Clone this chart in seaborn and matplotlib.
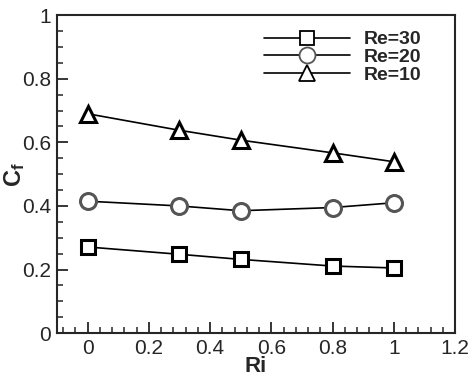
import matplotlib
matplotlib.use("Agg")
import matplotlib.pyplot as plt
import seaborn as sns
import pandas as pd
from matplotlib.lines import Line2D
from matplotlib.ticker import MultipleLocator

# Data
ri = [0.0, 0.3, 0.5, 0.8, 1.0]
cf_re30 = [0.271, 0.248, 0.232, 0.211, 0.205]
cf_re20 = [0.415, 0.400, 0.385, 0.395, 0.410]
cf_re10 = [0.690, 0.638, 0.607, 0.567, 0.539]
labels = ["Re=30", "Re=20", "Re=10"]

sns.set_style("ticks")
plt.rcParams["font.family"] = ["Liberation Sans", "DejaVu Sans"]
plt.rcParams["mathtext.fontset"] = "custom"
plt.rcParams["mathtext.rm"] = "Liberation Sans"
plt.rcParams["mathtext.bf"] = "Liberation Sans:bold"
plt.rcParams["mathtext.it"] = "Liberation Sans:italic"

fig = plt.figure(figsize=(4.74, 3.79), dpi=100)
ax = fig.add_axes([0.120, 0.121, 0.840, 0.839])

styles = [
    dict(marker="s", markersize=10, mec="black", mew=2.2),
    dict(marker="o", markersize=11.5, mec="#555555", mew=2.2),
    dict(marker="^", markersize=12, mec="black", mew=2.2),
]
series = [cf_re30, cf_re20, cf_re10]

handles = []
for vals, lab, st in zip(series, labels, styles):
    df = pd.DataFrame({"Ri": ri, "Cf": vals})
    sns.lineplot(data=df, x="Ri", y="Cf", ax=ax, color="black", linewidth=1.2,
                 marker=st["marker"], markersize=st["markersize"],
                 markerfacecolor="white", markeredgecolor=st["mec"],
                 markeredgewidth=st["mew"], legend=False)
    handles.append(Line2D([], [], color="black", linewidth=1.2, marker=st["marker"],
                          markersize=st["markersize"], markerfacecolor="white",
                          markeredgecolor=st["mec"], markeredgewidth=1.3, label=lab))

ax.set_xlim(-0.1, 1.2)
ax.set_ylim(0, 1)
ax.xaxis.set_major_locator(MultipleLocator(0.2))
ax.xaxis.set_minor_locator(MultipleLocator(0.04))
ax.yaxis.set_major_locator(MultipleLocator(0.2))
ax.yaxis.set_minor_locator(MultipleLocator(0.05))
ax.xaxis.set_major_formatter(plt.FuncFormatter(lambda v, p: f"{v:g}"))
ax.yaxis.set_major_formatter(plt.FuncFormatter(lambda v, p: f"{v:g}"))
ax.tick_params(which="major", direction="in", length=8, width=1.3, labelsize=15,
               top=False, right=False, pad=4)
ax.tick_params(which="minor", direction="in", length=4, width=1.1,
               top=False, right=False)
for sp in ax.spines.values():
    sp.set_linewidth(1.5)
    sp.set_visible(True)

ax.set_xlabel("Ri", fontsize=16, fontweight="bold", labelpad=-1)
ax.set_ylabel(r"$\mathbf{C_f}$", fontsize=17)
ax.yaxis.set_label_coords(-0.075, 0.5)

leg = ax.legend(handles=handles, loc="upper left", bbox_to_anchor=(0.482, 1.0),
                frameon=False, handlelength=4.4, handletextpad=0.7,
                labelspacing=0.0, borderpad=0.3, prop={"size": 14, "weight": "bold"})

fig.savefig("out.png", dpi=100)
